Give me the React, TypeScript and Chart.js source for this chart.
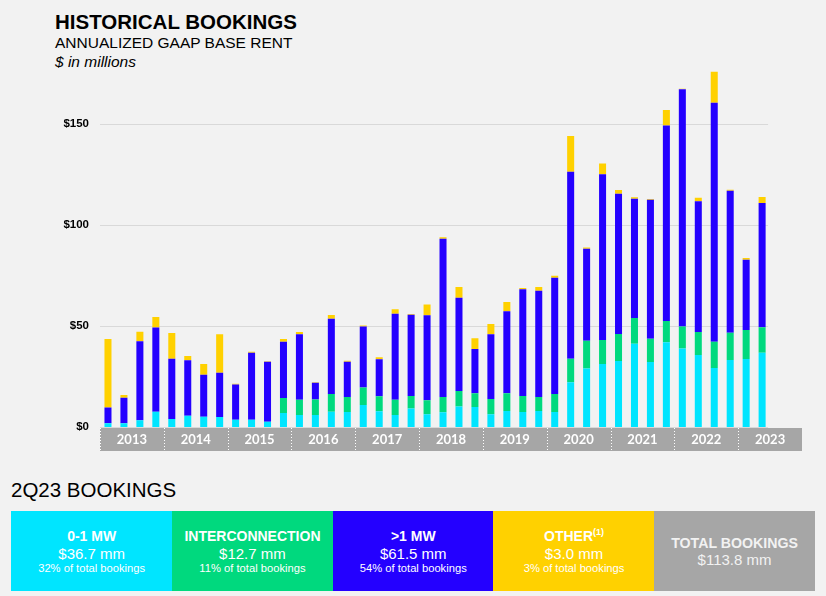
import React, { useEffect, useRef } from "react";
import { Chart, registerables } from "chart.js";

Chart.register(...registerables);

const years = ["2013", "2014", "2015", "2016", "2017", "2018", "2019", "2020", "2021", "2022", "2023"];
const quarterNames = ["1Q", "2Q", "3Q", "4Q"];
const quarterLabels = years.flatMap((y) => quarterNames.map((q) => q + y.slice(2)));
const barCount = 42;

const mw01 = [
  1.8, 1.8, 3.3, 7.6, 4.0, 5.6, 5.1, 5.0, 3.6, 3.6, 2.6, 6.9, 5.9, 5.9, 7.6, 7.4,
  10.9, 7.8, 5.9, 9.2, 6.3, 7.3, 10.2, 9.9, 6.3, 7.9, 7.4, 7.9, 7.4, 22.1, 29.0, 31.2,
  32.7, 41.2, 32.2, 41.9, 38.8, 35.6, 29.2, 33.2, 33.7, 36.7,
];
const interconnection = [
  0, 0, 0, 0, 0, 0, 0, 0, 0, 0, 0, 7.5, 7.6, 7.7, 8.7, 7.5,
  8.6, 7.4, 7.6, 6.1, 6.9, 7.6, 7.6, 6.8, 7.6, 8.8, 7.9, 7.0, 8.9, 11.7, 13.7, 11.9,
  13.3, 12.8, 11.5, 10.6, 10.9, 11.4, 13.0, 13.5, 14.3, 12.7,
];
const mwOver1 = [
  7.8, 12.7, 39.1, 41.6, 29.8, 27.4, 20.8, 21.9, 17.5, 33.2, 29.7, 27.8, 32.4, 8.3, 37.3, 17.4,
  30.3, 18.3, 42.6, 40.3, 42.1, 78.3, 46.2, 21.9, 32.0, 40.6, 52.9, 52.6, 57.6, 92.6, 45.6, 82.0,
  69.5, 59.0, 68.8, 96.7, 117.5, 64.7, 118.3, 70.3, 34.8, 61.5,
];
const other = [
  34.0, 1.3, 4.8, 5.3, 12.7, 2.1, 5.3, 19.0, 0.3, 0.5, 0.2, 1.4, 1.1, 0.3, 1.8, 0.5,
  0.5, 1.0, 2.2, 0.4, 5.4, 0.7, 5.3, 5.3, 5.1, 4.6, 0.6, 1.8, 1.0, 17.7, 0.5, 5.4,
  1.8, 0.7, 0.4, 7.7, 0.3, 1.8, 15.4, 0.5, 0.9, 3.0,
];
const yTicks = [0, 50, 100, 150];

const COLORS = {
  cyan: "#00E5FF",
  green: "#00D97E",
  blue: "#2400FF",
  yellow: "#FFD100",
  gray: "#A6A6A6",
};

const summary = [
  { title: "0-1 MW", value: "$36.7 mm", pct: "32% of total bookings", color: COLORS.cyan },
  { title: "INTERCONNECTION", value: "$12.7 mm", pct: "11% of total bookings", color: COLORS.green },
  { title: ">1 MW", value: "$61.5 mm", pct: "54% of total bookings", color: COLORS.blue },
  { title: "OTHER", sup: "(1)", value: "$3.0 mm", pct: "3% of total bookings", color: COLORS.yellow },
];

const FONT = '"Liberation Sans", Arial, sans-serif';

const decorPlugin = {
  id: "decor",
  beforeDatasetsDraw(chart: any) {
    const { ctx, chartArea, scales } = chart;
    const xs = scales.x;
    const ys = scales.y;
    const slot = (chartArea.right - chartArea.left) / quarterLabels.length;
    const xEnd = xs.getPixelForValue(barCount - 1) + slot / 2 - 2;
    ctx.save();
    ctx.strokeStyle = "#D9D9D9";
    ctx.lineWidth = 1;
    yTicks.forEach((v) => {
      const y = Math.round(ys.getPixelForValue(v)) + 0.5;
      ctx.beginPath();
      ctx.moveTo(chartArea.left, y);
      ctx.lineTo(xEnd, y);
      ctx.stroke();
    });
    ctx.restore();
  },
  afterDraw(chart: any) {
    const { ctx, chartArea, scales } = chart;
    const xs = scales.x;
    const slot = (chartArea.right - chartArea.left) / quarterLabels.length;
    const top = chartArea.bottom + 1;
    const h = 23;
    ctx.save();
    ctx.fillStyle = COLORS.gray;
    ctx.fillRect(chartArea.left, top, chartArea.right - chartArea.left, h);
    ctx.strokeStyle = "#FFFFFF";
    ctx.lineWidth = 1;
    ctx.setLineDash([1, 2]);
    years.forEach((_, g) => {
      const x = Math.round(xs.getPixelForValue(g * 4) - slot / 2) + 0.5;
      ctx.beginPath();
      ctx.moveTo(x, top);
      ctx.lineTo(x, top + h);
      ctx.stroke();
    });
    ctx.setLineDash([]);
    ctx.fillStyle = "#FFFFFF";
    ctx.font = 'bold 13px Lato, "Open Sans", sans-serif';
    ctx.textAlign = "center";
    ctx.textBaseline = "middle";
    years.forEach((yr, g) => {
      const x = (xs.getPixelForValue(g * 4 + 1) + xs.getPixelForValue(g * 4 + 2)) / 2;
      ctx.fillText(yr, x, top + h / 2 + 0.5);
    });
    ctx.restore();
  },
};

function BookingsChart() {
  const ref = useRef<HTMLCanvasElement | null>(null);
  useEffect(() => {
    if (!ref.current) return;
    const chart = new Chart(ref.current, {
      type: "bar",
      data: {
        labels: quarterLabels,
        datasets: [
          { label: "0-1 MW", data: mw01, backgroundColor: COLORS.cyan },
          { label: "Interconnection", data: interconnection, backgroundColor: COLORS.green },
          { label: ">1 MW", data: mwOver1, backgroundColor: COLORS.blue },
          { label: "Other", data: other, backgroundColor: COLORS.yellow },
        ],
      },
      options: {
        responsive: false,
        animation: false,
        maintainAspectRatio: false,
        layout: { padding: { left: 0, right: 24, top: 23.4, bottom: 33 } },
        datasets: { bar: { barPercentage: 0.44, categoryPercentage: 1 } },
        plugins: { legend: { display: false }, tooltip: { enabled: false }, title: { display: false } },
        scales: {
          x: { stacked: true, display: false },
          y: {
            stacked: true,
            min: 0,
            max: 180,
            grid: { display: false, drawTicks: false },
            border: { display: false },
            afterBuildTicks: (scale: any) => {
              scale.ticks = yTicks.map((v) => ({ value: v }));
            },
            afterFit: (scale: any) => {
              scale.width = 100;
            },
            ticks: {
              padding: 11,
              color: "#000000",
              font: { family: FONT, size: 11.5, weight: "bold" },
              callback: (v: any) => "$" + v,
            },
          },
        },
      },
      plugins: [decorPlugin],
    } as any);
    return () => chart.destroy();
  }, []);
  return (
    <canvas
      ref={ref}
      width={826}
      height={420}
      style={{ position: "absolute", left: 0, top: 40, width: 826, height: 420 }}
    />
  );
}

function Line(props: { top: number; size: number; bold?: boolean; italic?: boolean; children: any; left?: number; center?: boolean; color?: string }) {
  return (
    <div
      style={{
        position: "absolute",
        top: props.top,
        left: props.left ?? 0,
        right: props.center ? 0 : undefined,
        textAlign: props.center ? "center" : "left",
        fontSize: props.size,
        lineHeight: 1,
        fontWeight: props.bold ? "bold" : "normal",
        fontStyle: props.italic ? "italic" : "normal",
        color: props.color ?? "#000",
        whiteSpace: "nowrap",
      }}
    >
      {props.children}
    </div>
  );
}

export default function App() {
  const boxLeft = 11;
  const boxW = 160.8;
  return (
    <div
      style={{
        position: "absolute",
        left: 0,
        top: 0,
        width: 826,
        height: 596,
        background: "#F2F2F2",
        overflow: "hidden",
        fontFamily: FONT,
      }}
    >
      <Line top={11.6} left={55} size={20.5} bold>HISTORICAL BOOKINGS</Line>
      <Line top={35.2} left={55} size={15.5}>ANNUALIZED GAAP BASE RENT</Line>
      <Line top={53.6} left={55} size={15.5} italic>$ in millions</Line>
      <BookingsChart />
      <Line top={479.6} left={11} size={20.5}>2Q23 BOOKINGS</Line>
      {summary.map((s, i) => (
        <div
          key={s.title}
          style={{
            position: "absolute",
            left: boxLeft + i * boxW,
            top: 511,
            width: boxW + 0.5,
            height: 80,
            background: s.color,
          }}
        >
          <Line top={18.1} size={14} bold center color="#FFFFFF">
            {s.title}
            {s.sup ? <sup style={{ fontSize: 9, verticalAlign: "top", position: "relative", top: -1 }}>{s.sup}</sup> : null}
          </Line>
          <Line top={35} size={15} center color="#FFFFFF">{s.value}</Line>
          <Line top={52.2} size={11.2} center color="#FFFFFF">{s.pct}</Line>
        </div>
      ))}
      <div
        style={{
          position: "absolute",
          left: boxLeft + 4 * boxW,
          top: 511,
          width: boxW,
          height: 80,
          background: COLORS.gray,
        }}
      >
        <Line top={24.9} size={14.2} bold center color="#F2F2F2">TOTAL BOOKINGS</Line>
        <Line top={41} size={15} center color="#F2F2F2">$113.8 mm</Line>
      </div>
    </div>
  );
}
